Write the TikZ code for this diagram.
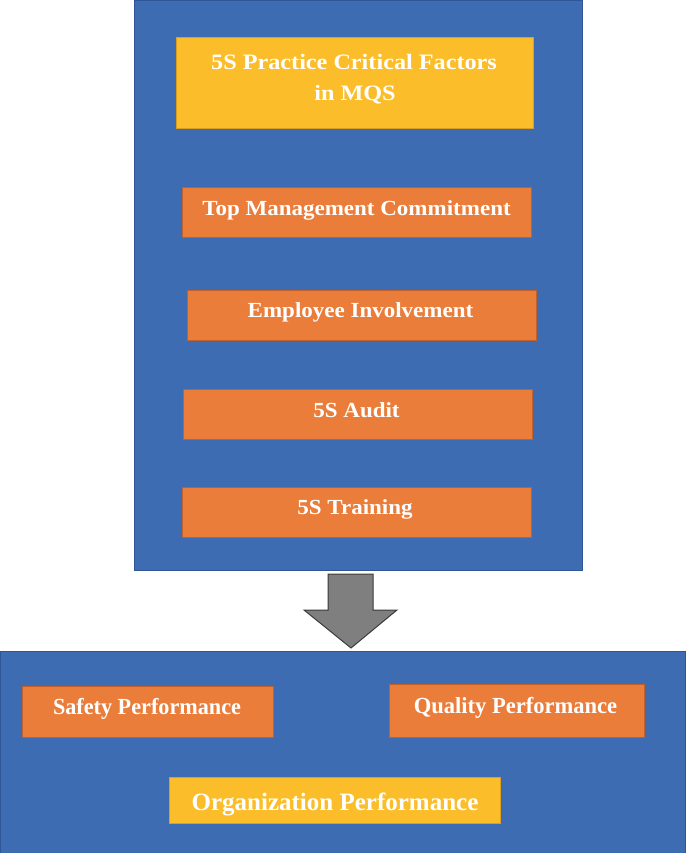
\documentclass[tikz,border=0pt]{standalone}
\usepackage{fontspec}
\setmainfont{Liberation Serif}
\usepackage{graphicx}
\definecolor{panelblue}{HTML}{3D6CB2}
\definecolor{paneledge}{HTML}{2F5597}
\definecolor{boxorange}{HTML}{EB7D3A}
\definecolor{orangeedge}{HTML}{C0602A}
\definecolor{boxgold}{HTML}{FBBD29}
\definecolor{goldedge}{HTML}{D9A020}
\definecolor{arrowgray}{HTML}{7F7F7F}
\definecolor{arrowedge}{HTML}{3B3B3B}
\tikzset{
  panel/.style={fill=panelblue, draw=paneledge, line width=1pt, anchor=north west, inner sep=0pt},
  factor/.style={fill=boxorange, draw=orangeedge, line width=1pt, minimum width=349pt, minimum height=50pt, inner sep=0pt, anchor=north west},
  result/.style={fill=boxorange, draw=orangeedge, line width=1pt, minimum height=51pt, inner sep=0pt, anchor=north west},
  goldbox/.style={fill=boxgold, draw=goldedge, line width=0.8pt, inner sep=0pt, anchor=north west},
  lbl/.style={text=white, inner sep=0pt, anchor=base},
  factorfont/.style={font=\bfseries\fontsize{21.5}{26}\selectfont},
  resultfont/.style={font=\bfseries\fontsize{23}{28}\selectfont},
  bigarrow/.style={fill=arrowgray, draw=arrowedge, line width=1pt, line join=miter}
}
\begin{document}
\begin{tikzpicture}[x=1pt,y=-1pt]
\useasboundingbox (0,0) rectangle (685,853);
% panels
\node[panel, minimum width=448pt, minimum height=570pt] (top) at (134,0) {};
\node[panel, minimum width=685pt, minimum height=202pt] (bottom) at (0,651) {};
% title
\node[goldbox, minimum width=357pt, minimum height=91pt] (title) at (176,37) {};
\node[lbl, font=\bfseries\fontsize{22}{28}\selectfont] (titlea) at (354,70) {\scalebox{1.1}[1]{5S Practice Critical Factors}};
\node[lbl, font=\bfseries\fontsize{22}{28}\selectfont] (titleb) at (355,101) {\scalebox{1.1}[1]{in MQS}};
% factors
\node[factor] (tmc) at (182,187) {};
\node[lbl, factorfont] (tmct) at (356.5,215) {\scalebox{1.07}[1]{Top Management Commitment}};
\node[factor] (emp) at (187,290) {};
\node[lbl, factorfont] (empt) at (360.5,317) {\scalebox{1.07}[1]{Employee Involvement}};
\node[factor] (aud) at (183,389) {};
\node[lbl, factorfont] (audt) at (356.5,417) {\scalebox{1.07}[1]{5S Audit}};
\node[factor] (trn) at (182,487) {};
\node[lbl, factorfont] (trnt) at (355,514) {\scalebox{1.07}[1]{5S Training}};
% arrow
\draw[bigarrow] (328,574) -- (373,574) -- (373,610) -- (397,610) -- (351,648) -- (304,610) -- (328,610) -- cycle;
% results
\node[result, minimum width=251pt] (saf) at (22,686) {};
\node[lbl, resultfont] (saft) at (147,714) {\scalebox{0.965}[1]{Safety Performance}};
\node[result, minimum width=255pt, minimum height=53pt] (qua) at (389,684) {};
\node[lbl, resultfont] (quat) at (515.5,713) {\scalebox{0.98}[1]{Quality Performance}};
\node[goldbox, minimum width=331pt, minimum height=46pt] (org) at (169,777) {};
\node[lbl, font=\bfseries\fontsize{25}{30}\selectfont] (orgt) at (335,810) {Organization Performance};
\end{tikzpicture}
\end{document}
